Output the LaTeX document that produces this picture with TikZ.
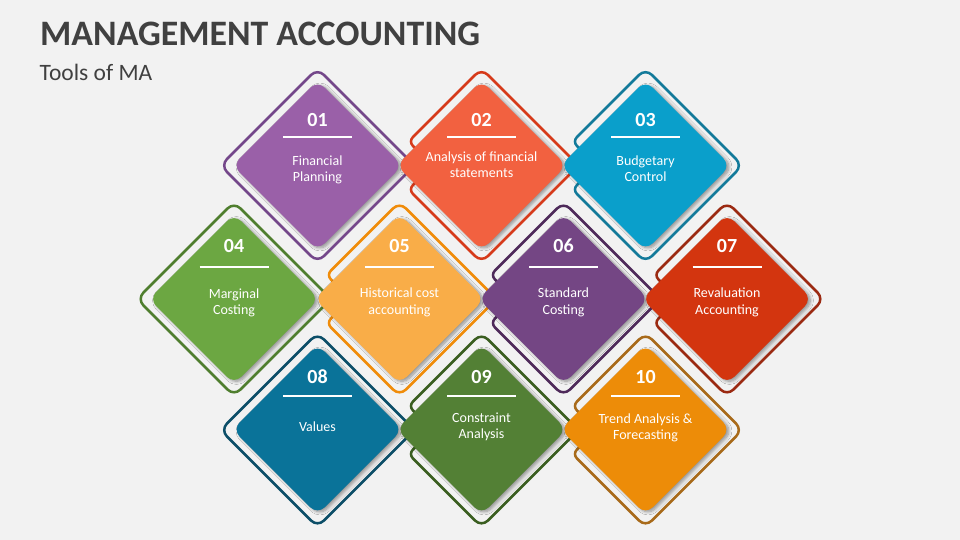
\documentclass[tikz,border=0pt]{standalone}
\usepackage{fontspec}
\setmainfont{Carlito}
\usetikzlibrary{shadows.blur}
\definecolor{bg}{HTML}{F2F2F2}
\definecolor{titlegrey}{HTML}{404040}
\definecolor{fA}{HTML}{9A60A8}\definecolor{oA}{HTML}{74478A}
\definecolor{fB}{HTML}{F26140}\definecolor{oB}{HTML}{D63A1A}
\definecolor{fC}{HTML}{0A9FCB}\definecolor{oC}{HTML}{137A9A}
\definecolor{fD}{HTML}{6CA742}\definecolor{oD}{HTML}{4F7E2E}
\definecolor{fE}{HTML}{F9AD48}\definecolor{oE}{HTML}{F08C0A}
\definecolor{fF}{HTML}{744684}\definecolor{oF}{HTML}{4E2A5A}
\definecolor{fG}{HTML}{D3350F}\definecolor{oG}{HTML}{9B2A12}
\definecolor{fH}{HTML}{0A7399}\definecolor{oH}{HTML}{0C4E68}
\definecolor{fI}{HTML}{538035}\definecolor{oI}{HTML}{3A5E20}
\definecolor{fJ}{HTML}{ED8C08}\definecolor{oJ}{HTML}{A86A1A}
\tikzset{
  outl/.style={line width=2.5pt, rounded corners=9pt},
  tilefill/.style={rounded corners=10pt,
    blur shadow={shadow xshift=2.5pt, shadow yshift=-1.5pt, shadow blur radius=3pt, shadow blur steps=8, shadow opacity=40}},
  numtxt/.style={anchor=base, inner sep=0pt, text=white, font=\fontsize{20}{22}\selectfont\bfseries},
  bodytxt/.style={anchor=base, inner sep=0pt, text=white, font=\fontsize{14}{16.3}\selectfont},
  rulew/.style={white, line width=2pt}
}
\newcommand{\mytwo}[2]{\begin{tabular}[t]{@{}c@{}}#1\\#2\end{tabular}}
\begin{document}
\begin{tikzpicture}[x=1pt,y=-1pt]
\useasboundingbox (0,0) rectangle (960,540);
\fill[bg] (0,0) rectangle (960,540);
% title
\node[anchor=base west, inner sep=0pt, text=titlegrey, font=\fontsize{35.8}{40}\selectfont\bfseries] (title) at (40,46) {MANAGEMENT ACCOUNTING};
\node[anchor=base west, inner sep=0pt, text=titlegrey, font=\fontsize{23.5}{28}\selectfont] (subtitle) at (39.5,81) {Tools of MA};
% outlines
\foreach \cx/\cy/\oc/\nt in {317.5/165.5/oA/0, 481.5/165.5/oB/1, 645.5/165.5/oC/1,
  234/299/oD/0, 399.5/299/oE/1, 563.5/299/oF/1, 727/299/oG/1,
  317.5/430/oH/0, 481.5/430/oI/1, 645.5/430/oJ/1}{
  \ifnum\nt=0
    \draw[outl, draw=\oc] (\cx-48.5,\cy-48.5) -- (\cx,\cy-97) -- (\cx+97,\cy) -- (\cx,\cy+97) -- (\cx-97,\cy) -- cycle;
  \else
    \draw[outl, rounded corners=6pt, draw=\oc] (\cx-57,\cy-8) -- (\cx-73,\cy-24) [rounded corners=9pt] -- (\cx,\cy-97) -- (\cx+97,\cy) -- (\cx,\cy+97) [rounded corners=6pt] -- (\cx-73,\cy+24) -- (\cx-57,\cy+8);
  \fi
}
% fills
\foreach \cx/\cy/\fc in {317.5/165.5/fA, 481.5/165.5/fB, 645.5/165.5/fC,
  234/299/fD, 399.5/299/fE, 563.5/299/fF, 727/299/fG,
  317.5/429.5/fH, 481.5/429.5/fI, 645.5/429.5/fJ}{
  \fill[tilefill, fill=\fc] (\cx-42.5,\cy-42.5) -- (\cx,\cy-85) -- (\cx+85,\cy) -- (\cx,\cy+85) -- (\cx-85,\cy) -- cycle;
}
% numbers and rules
\foreach \nm/\cx/\nb/\ry in {01/317.5/127/137.5, 02/481.5/127/137.5, 03/645.5/127/137.5,
  04/234/252.7/266.7, 05/399.5/252.7/266.7, 06/563.5/252.7/266.7, 07/727/252.7/266.7,
  08/317.5/383.3/396, 09/481.5/383.3/396, 10/645.5/383.3/396}{
  \node[numtxt] (n\nm) at (\cx,\nb) {\nm};
  \draw[rulew] (\cx-34.5,\ry) -- (\cx+34.5,\ry);
}
% labels
\node[bodytxt] (t01) at (317.5,165) {\mytwo{Financial}{Planning}};
\node[bodytxt] (t02) at (481.5,161.7) {\mytwo{Analysis of financial}{statements}};
\node[bodytxt] (t03) at (645.5,165) {\mytwo{Budgetary}{Control}};
\node[bodytxt] (t04) at (234,298) {\mytwo{Marginal}{Costing}};
\node[bodytxt] (t05) at (399.5,297.7) {\mytwo{Historical cost}{accounting}};
\node[bodytxt] (t06) at (563.5,297.7) {\mytwo{Standard}{Costing}};
\node[bodytxt] (t07) at (727,297.7) {\mytwo{Revaluation}{Accounting}};
\node[bodytxt] (t08) at (317.5,431.7) {Values};
\node[bodytxt] (t09) at (481.5,422.3) {\mytwo{Constraint}{Analysis}};
\node[bodytxt] (t10) at (645.5,423.3) {\mytwo{Trend Analysis \&}{Forecasting}};
\end{tikzpicture}
\end{document}
